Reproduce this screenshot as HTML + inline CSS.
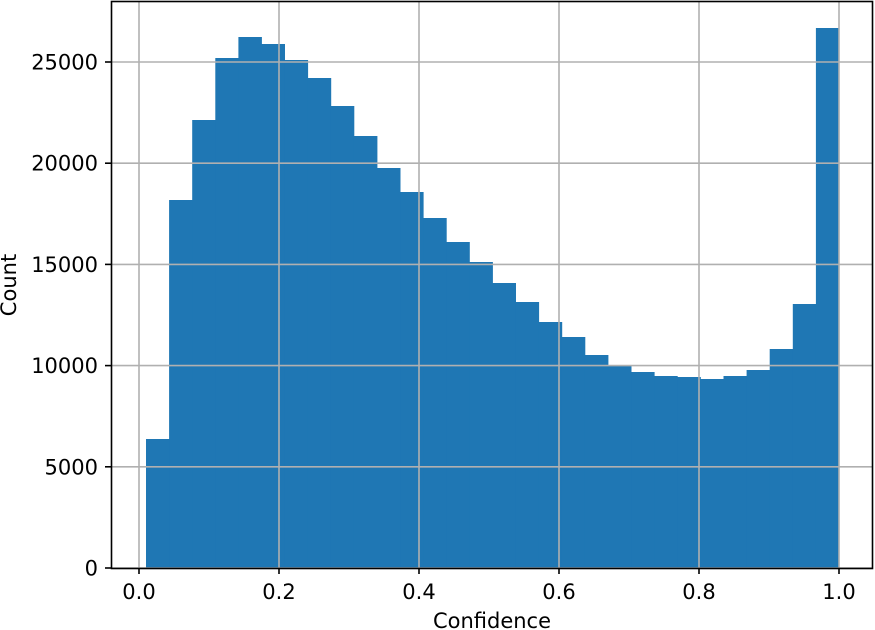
<!DOCTYPE html><html><head><style>body{margin:0;background:#fff}svg{display:block}text{font-family:"DejaVu Sans","Liberation Sans",sans-serif;font-size:21px;fill:#000}</style></head><body>
<svg width="875" height="630" xmlns="http://www.w3.org/2000/svg">
<g fill="#1f77b4" id="bars"></g>
<g id="grid" stroke="#b0b0b0" stroke-width="1.6"></g>
<rect x="111.5" y="1.5" width="761" height="567" fill="none" stroke="#000" stroke-width="1.6"/>
<g id="ticks" stroke="#000" stroke-width="1.6"></g>
<g id="labels"></g>
<text x="492" y="628" text-anchor="middle">Confidence</text>
<text transform="translate(16,285) rotate(-90)" text-anchor="middle">Count</text>
</svg>
<script>
const NS="http://www.w3.org/2000/svg";
function el(p,t,a,txt){const e=document.createElementNS(NS,t);for(const k in a)e.setAttribute(k,a[k]);if(txt)e.textContent=txt;document.getElementById(p).appendChild(e);}
const tops=[439,200,120,58,37,44,60,78,106,136,168,192,218,242,262,283,302,322,337,355,365,372,376,377,379,376,370,349,304,28];
const x0=146,w=(839-146)/30;
tops.forEach((t,i)=>el("bars","rect",{x:(x0+i*w).toFixed(2),y:t,width:(w+0.4).toFixed(2),height:568-t}));
for(let i=0;i<=5;i++){const x=139+i*140;el("grid","line",{x1:x,x2:x,y1:1,y2:568});el("ticks","line",{x1:x,x2:x,y1:568,y2:574});el("labels","text",{x:x,y:599,"text-anchor":"middle"},(i*0.2).toFixed(1));}
for(let i=0;i<=5;i++){const y=568-i*101.2;el("grid","line",{x1:111,x2:872,y1:y,y2:y});el("ticks","line",{x1:105,x2:111,y1:y,y2:y});el("labels","text",{x:98,y:y+7.5,"text-anchor":"end"},String(i*5000));}
</script>
</body></html>
